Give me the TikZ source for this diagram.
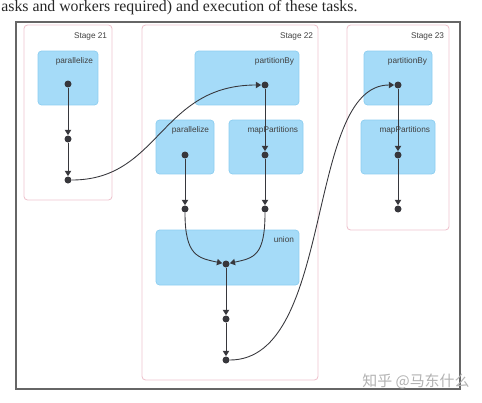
\documentclass[tikz,border=0pt]{standalone}
\usepackage{fontspec}
\setmainfont{Liberation Serif}
\newfontfamily\labelfont{Liberation Sans}
\newfontfamily\cjkfont{Noto Sans CJK SC}
\usepackage{tikz}
\usetikzlibrary{shapes,arrows.meta,positioning}
\definecolor{opblue}{RGB}{165, 219, 248}
\definecolor{opborder}{RGB}{140, 205, 240}
\definecolor{stagepink}{RGB}{238, 196, 206}
\definecolor{flowgray}{RGB}{55, 55, 60}

\tikzset{
  stagebox/.style={rectangle, draw=stagepink, line width=0.5pt, rounded corners=2pt, inner sep=0},
  opbox/.style={rectangle, draw=opborder, fill=opblue, line width=0.4pt, rounded corners=2pt, inner sep=0, minimum height=1.08cm},
  boxlabel/.style={anchor=north east, font=\labelfont\fontsize{4.7}{5}\selectfont, text=black!75, inner sep=0},
  dot/.style={circle, fill=flowgray, inner sep=0, minimum size=0.14cm},
  flow/.style={-{Triangle[length=3pt, width=3.6pt]}, draw=flowgray, line width=0.5pt}
}

\begin{document}
\begin{tikzpicture}[x=0.02cm, y=-0.02cm]
  \useasboundingbox (0,0) rectangle (482,402);
  % texto de arriba y marco
  \node[anchor=base west, inner sep=0, font=\fontsize{9}{10}\selectfont, text=black!85] (caption) at (1,12) {asks and workers required) and execution of these tasks.};
  \draw[black!60, line width=0.6pt] (16,22) rectangle (460,389);

  % Stages
  \node[stagebox, minimum width=1.76cm, minimum height=3.5cm] (stage21) at (68,112.5) {};
  \node[stagebox, minimum width=3.52cm, minimum height=7.1cm] (stage22) at (230,202.5) {};
  \node[stagebox, minimum width=2.04cm, minimum height=4.1cm] (stage23) at (398,127.5) {};
  \node[boxlabel] at ([xshift=-0.1cm, yshift=-0.15cm]stage21.north east) {Stage 21};
  \node[boxlabel] at ([xshift=-0.1cm, yshift=-0.15cm]stage22.north east) {Stage 22};
  \node[boxlabel] at ([xshift=-0.1cm, yshift=-0.15cm]stage23.north east) {Stage 23};

  % Operaciones
  \node[opbox, minimum width=1.2cm] (par21) at (68,78) {};
  \node[opbox, minimum width=2.08cm] (part22) at (247,78) {};
  \node[opbox, minimum width=1.16cm] (par22) at (185,147) {};
  \node[opbox, minimum width=1.48cm] (map22) at (266,147) {};
  \node[opbox, minimum width=2.86cm, minimum height=1.1cm] (union) at (227.5,257.5) {};
  \node[opbox, minimum width=1.36cm] (part23) at (398,78) {};
  \node[opbox, minimum width=1.48cm] (map23) at (398,147) {};
  \node[boxlabel] at ([xshift=-0.1cm, yshift=-0.13cm]par21.north east) {parallelize};
  \node[boxlabel] at ([xshift=-0.1cm, yshift=-0.13cm]part22.north east) {partitionBy};
  \node[boxlabel] at ([xshift=-0.1cm, yshift=-0.13cm]par22.north east) {parallelize};
  \node[boxlabel] at ([xshift=-0.1cm, yshift=-0.13cm]map22.north east) {mapPartitions};
  \node[boxlabel] at ([xshift=-0.1cm, yshift=-0.13cm]union.north east) {union};
  \node[boxlabel] at ([xshift=-0.1cm, yshift=-0.13cm]part23.north east) {partitionBy};
  \node[boxlabel] at ([xshift=-0.1cm, yshift=-0.13cm]map23.north east) {mapPartitions};

  % Puntos
  \node[dot] (a1) at (68,84) {};
  \node[dot] (a2) at (68,139) {};
  \node[dot] (a3) at (68,180) {};
  \node[dot] (b1) at (265,85) {};
  \node[dot] (b2) at (265,155) {};
  \node[dot] (b3) at (265,209) {};
  \node[dot] (c1) at (185,155) {};
  \node[dot] (c2) at (185,209) {};
  \node[dot] (u1) at (226,264) {};
  \node[dot] (u2) at (226,319) {};
  \node[dot] (u3) at (226,360) {};
  \node[dot] (e1) at (398,85) {};
  \node[dot] (e2) at (398,155) {};
  \node[dot] (e3) at (398,209) {};

  % Flechas
  \draw[flow] (a1) -- (a2);
  \draw[flow] (a2) -- (a3);
  \draw[flow] (a3.east) .. controls (160,180) and (160,85) .. (b1.west);
  \draw[flow] (b1) -- (b2);
  \draw[flow] (b2) -- (b3);
  \draw[flow] (c1) -- (c2);
  \draw[flow] (c2.south) .. controls (185,256) and (198,258) .. (u1);
  \draw[flow] (b3.south) .. controls (265,256) and (254,258) .. (u1);
  \draw[flow] (u1) -- (u2);
  \draw[flow] (u2) -- (u3);
  \draw[flow] (u3.east) .. controls (335,360) and (305,85) .. (e1.west);
  \draw[flow] (e1) -- (e2);
  \draw[flow] (e2) -- (e3);

  % marca de agua
  \node[font=\cjkfont\fontsize{8.5}{9}\selectfont, text=black!30, inner sep=0] (mark) at (416,381) {知乎 @马东什么};
\end{tikzpicture}
\end{document}
